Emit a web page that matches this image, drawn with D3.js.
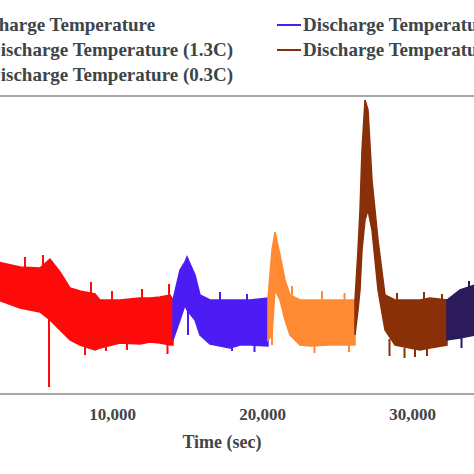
<!DOCTYPE html>
<html><head><meta charset="utf-8">
<script src="https://cdn.jsdelivr.net/npm/d3@7"></script>
<style>body{margin:0;background:#fff}</style>
</head><body>
<script>
"use strict";
// colours of the five segments
const seriesColors = ["#ff0a0a", "#4d1cf5", "#ff8a33", "#8a3008", "#2b1b5c"];
// envelopes: [time (sec), lower, upper]
const redBand = [[2400,29.4,33.2],[3867,28.6,32.7],[5200,28.2,32.6],[5867,27.4,33.5],[6533,26.4,32.2],
  [7200,25.4,30.6],[7867,24.9,30.3],[8867,24.4,30.0],[9200,24.6,29.4],[10533,25.1,29.4],[11867,25.0,29.6],
  [12533,25.2,29.6],[13200,25.1,29.7],[13867,24.9,29.9],[14067,24.9,29.4]];
const purpleBand = [[14067,25.4,29.4],[14533,27.4,32.4],[14867,28.9,33.2],[15000,28.4,33.7],[15533,27.4,31.9],
  [15867,25.9,29.9],[16533,25.0,29.4],[16867,24.9,29.4],[17867,24.6,29.4],[18533,24.9,29.4],[19200,24.9,29.4],[20400,24.8,29.6]];
const orangeBand = [[20400,25.4,29.6],[20667,25.9,34.4],[20867,30.4,36.2],[21200,29.4,33.9],[21533,27.4,31.4],
  [21867,25.9,29.9],[22533,24.9,29.4],[23200,24.8,29.4],[24533,24.9,29.4],[26200,24.9,29.4]];
const brownBand = [[26200,25.9,29.4],[26400,28.4,34.4],[26533,30.4,38.4],[26667,34.4,44.4],[26867,37.4,49.4],
  [27067,38.4,48.4],[27333,36.4,41.4],[27733,30.4,35.4],[28200,26.4,29.9],[28867,24.9,29.4],
  [30533,24.4,29.4],[31200,24.6,29.6],[32333,24.9,29.4]];
const navyBand = [[32333,25.4,29.4],[33200,25.6,30.4],[34200,25.9,30.9]];
// single spikes: [time, from, to]
const spikes = [[5800,27.8,20.7],[15067,28.8,25.9],[20667,28.0,24.9],[8200,25.0,23.9],[9600,25.0,24.3],
  [11000,25.2,24.4],[13700,25.0,24.0],[18000,24.8,24.3],[19500,25.0,24.2],[23500,24.9,24.1],[25800,24.9,24.2],
  [28500,25.5,23.8],[29500,24.6,23.6],[30200,24.5,23.7],[31000,24.7,23.8],[33300,25.6,24.6],
  [4200,32.6,33.7],[5400,32.6,33.9],[8600,30.1,31.2],[10000,29.4,30.3],[12000,29.6,30.5],[13800,29.9,31.0],
  [17200,29.4,30.2],[19000,29.4,30.0],[22000,29.9,30.8],[24000,29.4,30.3],[25500,29.4,30.1],
  [29000,29.4,30.1],[30800,29.5,30.2],[32000,29.4,30.0],[33800,30.6,31.3]];
const spikeSeries = [0,1,2,0,0,0,0,1,1,2,2,3,3,3,3,4,0,0,0,0,0,0,1,1,2,2,2,3,3,3,4];
const xTicks = [10000, 20000, 30000];

const W = 474, H = 474;
const svg = d3.select("body").append("svg").attr("width", W).attr("height", H);
const x = d3.scaleLinear().domain([10000, 20000]).range([112, 262]);
const y = d3.scaleLinear().domain([20, 50]).range([394, 94]);

const bands = [redBand, purpleBand, orangeBand, brownBand, navyBand];
const area = d3.area().x(d => x(d[0])).y0(d => y(d[1])).y1(d => y(d[2]));
svg.append("g").selectAll("path").data(bands).join("path")
  .attr("d", area).attr("fill", (d, i) => seriesColors[i])
  .attr("stroke", (d, i) => seriesColors[i]).attr("stroke-width", 1.5);
svg.append("g").selectAll("line").data(spikes).join("line")
  .attr("x1", d => x(d[0])).attr("x2", d => x(d[0]))
  .attr("y1", d => y(d[1])).attr("y2", d => y(d[2]))
  .attr("stroke", (d, i) => seriesColors[spikeSeries[i]]).attr("stroke-width", 2);

// frame lines
svg.append("line").attr("x1", 0).attr("x2", W).attr("y1", 96).attr("y2", 96).attr("stroke", "#888").attr("stroke-width", 1.5);
const xAxis = svg.append("g").attr("transform", "translate(0,394)")
  .call(d3.axisBottom(x).tickValues(xTicks).tickFormat(d3.format(",")).tickSize(0).tickPadding(14));
xAxis.select(".domain").attr("d", `M0,0H${W}`).attr("stroke", "#888").attr("stroke-width", 1.5);
xAxis.selectAll("text").attr("font-family", "Liberation Serif").attr("font-weight", "bold")
  .attr("font-size", 17).attr("fill", "#444");
svg.append("text").attr("x", 222).attr("y", 448).attr("text-anchor", "middle")
  .attr("font-family", "Liberation Serif").attr("font-weight", "bold").attr("font-size", 18).attr("fill", "#444")
  .text("Time (sec)");

// legend
const legendLeft = ["Charge Temperature", "Discharge Temperature (1.3C)", "Discharge Temperature (0.3C)"];
const legendRight = ["Discharge Temperature (2C)", "Discharge Temperature (1C)"];
const legendRightColors = [seriesColors[1], seriesColors[3]];
const font = s => s.attr("font-family", "Liberation Serif").attr("font-weight", "bold").attr("font-size", 19).attr("fill", "#3d4548");
svg.append("g").selectAll("text").data(legendLeft).join("text")
  .attr("x", (d, i) => i === 0 ? -15 : -13).attr("y", (d, i) => 31 + i * 25).text(d => d).call(font);
const lr = svg.append("g").selectAll("g").data(legendRight).join("g")
  .attr("transform", (d, i) => `translate(277,${25 + i * 25})`);
lr.append("line").attr("x1", 0).attr("x2", 24).attr("stroke", (d, i) => legendRightColors[i]).attr("stroke-width", 2);
lr.append("text").attr("x", 26).attr("y", 6).text(d => d).call(font);
</script>
</body></html>
